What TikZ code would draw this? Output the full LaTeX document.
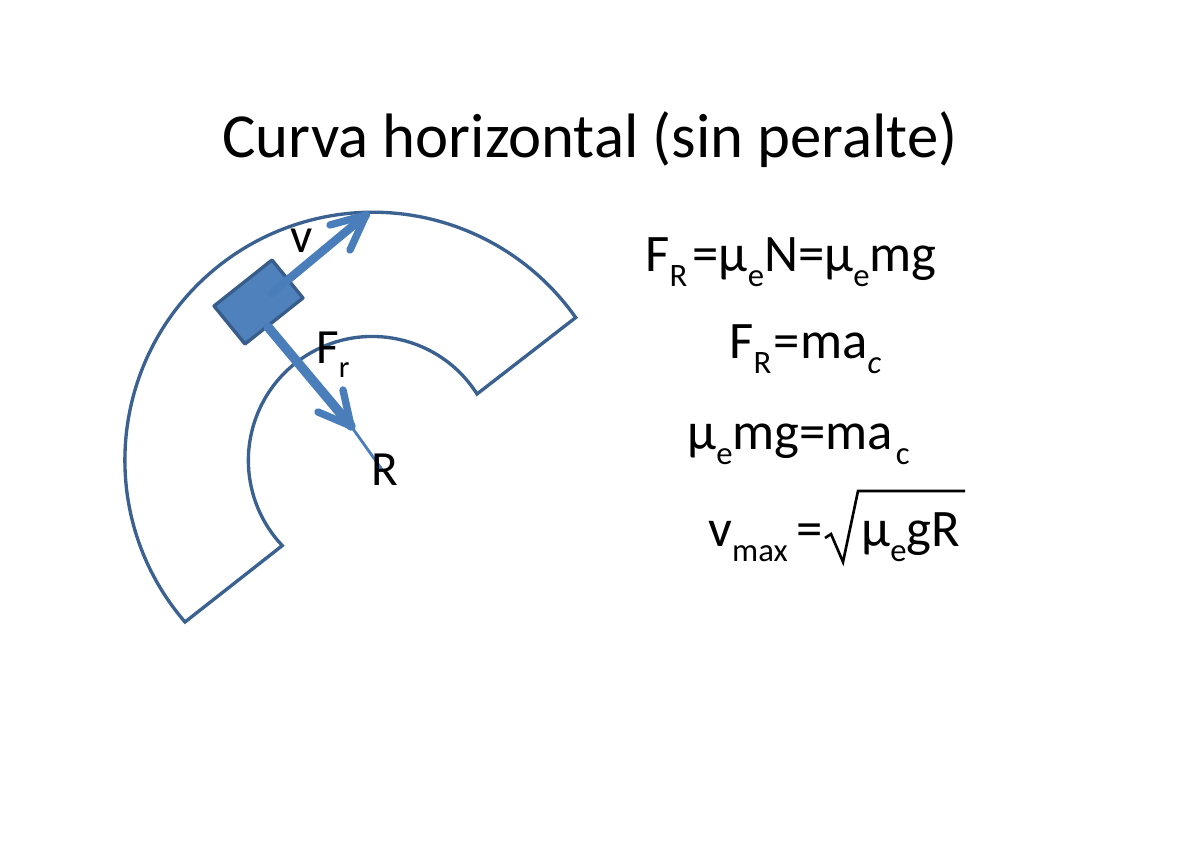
\documentclass[tikz,border=0pt]{standalone}
\usepackage{fontspec}
\setmainfont{Carlito}
\newcommand{\lsub}[1]{\raisebox{-0.3em}{\scalebox{0.62}{#1}}}
\definecolor{ringc}{HTML}{3A6190}
\definecolor{blockf}{HTML}{4F81BD}
\definecolor{blockd}{HTML}{385D8A}
\definecolor{arrowc}{HTML}{4A7EBB}
\tikzset{
  ring/.style={draw=ringc,line width=1.9pt,line join=miter,fill=white},
  block/.style={draw=blockd,fill=blockf,line width=1.9pt,line join=round},
  force/.style={draw=arrowc,line width=4.8pt,line cap=round,line join=round},
  thinline/.style={draw=arrowc,line width=1.6pt},
  radical/.style={draw=black,line width=1.5pt,line join=miter},
  titletext/.style={anchor=base,inner sep=0pt,font=\fontsize{35.7}{40}\selectfont},
  eq/.style={anchor=base west,inner sep=0pt,font=\fontsize{30}{34}\selectfont},
  lab/.style={anchor=base west,inner sep=0pt,font=\fontsize{28}{32}\selectfont}
}
\begin{document}
\begin{tikzpicture}[x=0.02cm,y=-0.02cm]
\useasboundingbox (0,0) rectangle (1200,848);
% road
\coordinate (o1) at (185,622);
\coordinate (o2) at (575,318);
\coordinate (i1) at (477,394);
\coordinate (i2) at (282,546);
\path[ring] (o1) arc[start angle=220.75,end angle=35.1,radius=4.96cm]
  -- (i1) arc[start angle=32.4,end angle=223.4,radius=2.48cm] -- cycle;
% block
\coordinate (b1) at (272,260);
\coordinate (b2) at (303,298);
\coordinate (b3) at (245,344);
\coordinate (b4) at (214,306);
\path[block] (b1) -- (b2) -- (b3) -- (b4) -- cycle;
% velocity
\coordinate (vs) at (272,293);
\coordinate (vt) at (366,215);
\coordinate (va) at (330,225);
\coordinate (vb) at (350,250);
\draw[force] (vs) -- (vt);
\draw[force,line width=4.2pt] (va) -- (vt) -- (vb);
% friction
\coordinate (fs) at (268,327);
\coordinate (ft) at (351,426);
\coordinate (fa) at (343,390);
\coordinate (fb) at (318,412);
\coordinate (re) at (383,471);
\draw[thinline] (ft) -- (re);
\draw[force,line width=5.4pt] (fs) -- (ft);
\draw[force,line width=4.2pt] (fa) -- (ft) -- (fb);
% labels
\node[titletext] (title) at (590,157) {Curva horizontal (sin peralte)};
\node[lab] (v) at (290,252) {v};
\node[lab] (F) at (316,363) {F\lsub{r}};
\node[lab] (R) at (371,485) {R};
\node[eq] (e1) at (645,271) {F\lsub{R}\hspace{0.1em}=µ\lsub{e}N=µ\lsub{e}mg};
\node[eq] (e2) at (729,358) {F\lsub{R}\hspace{0.05em}=ma\lsub{\itshape c}};
\node[eq] (e3) at (687,449) {µ\lsub{e}mg=ma\hspace{0.05em}\lsub{c}};
\node[eq] (e4) at (708,546) {v\lsub{max}\,=};
\node[eq] (e5) at (861,546) {µ\lsub{e}gR};
\coordinate (s1) at (825,538);
\coordinate (s2) at (831,534);
\coordinate (s3) at (843,562);
\coordinate (s4) at (858,491);
\coordinate (s5) at (965,491);
\draw[radical] (s1) -- (s2) -- (s3) -- (s4) -- (s5);
\end{tikzpicture}
\end{document}
